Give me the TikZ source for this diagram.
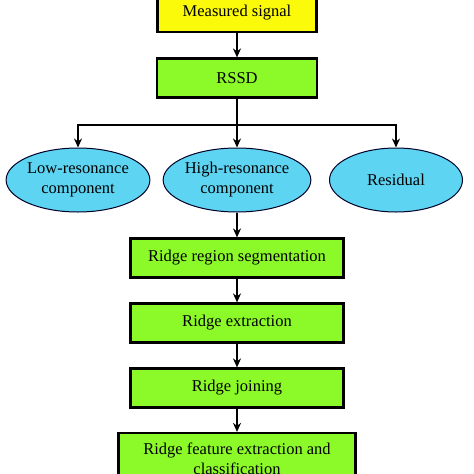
\documentclass[tikz,border=0pt]{standalone}
\usepackage{fontspec}
\setmainfont{Liberation Serif}
\usetikzlibrary{shapes.geometric, arrows.meta}
\definecolor{SigYellow}{HTML}{FAFA0A}
\definecolor{StepGreen}{HTML}{8CFA28}
\definecolor{CompBlue}{HTML}{5CD4F2}
\tikzstyle{signal} = [rectangle, minimum width=159pt, minimum height=38pt, text centered, draw=black, line width=2.2pt, fill=SigYellow]
\tikzstyle{process} = [rectangle, minimum width=160pt, minimum height=39pt, text centered, draw=black, line width=2.2pt, fill=StepGreen]
\tikzstyle{comp} = [ellipse, minimum width=133pt, minimum height=64pt, inner sep=0pt, align=center, draw=black!85!blue, line width=1pt, fill=CompBlue]
\tikzstyle{arrow} = [line width=2pt,->,>={Stealth[length=9pt,width=8pt]}]
\tikzstyle{line} = [line width=2pt]

\begin{document}
\begin{tikzpicture}[node distance=65pt, font=\fontsize{16.5}{20}\selectfont]
\useasboundingbox (0,0) rectangle (474pt,-474pt);

\node (meas) [signal] at (237pt,-13pt) {Measured signal};
\node (rssd) [process, below of=meas] {RSSD};

\node (high) [comp, below of=rssd, yshift=-37pt] {High-resonance\\component};
\node (low)  [comp, left of=high, node distance=159pt] {Low-resonance\\component};
\node (res)  [comp, right of=high, node distance=159pt] {Residual};

\node (seg)  [process, below of=high, yshift=-13pt, minimum width=213pt] {Ridge region segmentation};
\node (extr) [process, below of=seg, minimum width=213pt] {Ridge extraction};
\node (join) [process, below of=extr, minimum width=213pt] {Ridge joining};
\node (feat) [process, below of=join, yshift=-6pt, minimum width=237pt, minimum height=52pt, align=center] {Ridge feature extraction and\\classification};

\draw [arrow] (meas) -- (rssd);
\draw [line] (rssd.south) -- ++(0,-26pt) coordinate (split);
\draw [arrow] (split) -| (low.north);
\draw [arrow] (split) -| (res.north);
\draw [arrow] (split) -- (high.north);

\draw [arrow] (high) -- (seg);
\draw [arrow] (seg) -- (extr);
\draw [arrow] (extr) -- (join);
\draw [arrow] (join) -- (feat);

\end{tikzpicture}
\end{document}
